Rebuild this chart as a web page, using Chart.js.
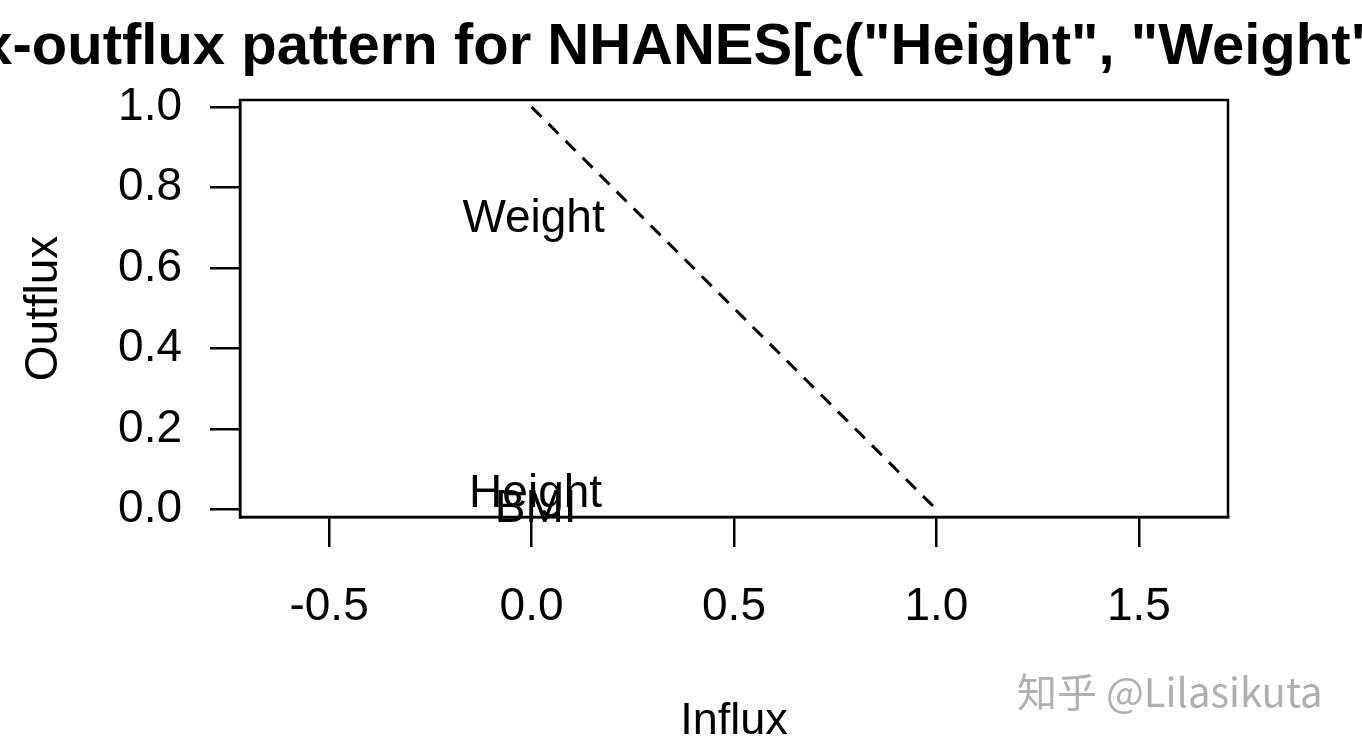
<!DOCTYPE html>
<html>
<head>
<meta charset="utf-8">
<script src="https://cdn.jsdelivr.net/npm/chart.js@4.4.0/dist/chart.umd.min.js"></script>
<style>
  html, body { margin: 0; padding: 0; background: #fff; }
</style>
</head>
<body>
<canvas id="chart" width="1362" height="749"></canvas>
<script>
var variables = ['Height', 'Weight', 'BMI'];
var influx = [0.01, 0.005, 0.01];
var outflux = [0.037, 0.722, 0.0];
var diagonalX = [0, 1];
var diagonalY = [1, 0];
var xTicks = [-0.5, 0, 0.5, 1, 1.5];
var yTicks = [0, 0.2, 0.4, 0.6, 0.8, 1];
var xRange = [-0.72, 1.72];
var yRange = [-0.0186, 1.0174];
var mainTitle = 'Influx-outflux pattern for NHANES[c("Height", "Weight", "BMI")]';
var watermark = '知乎 @Lilasikuta';

var FONT = '"Liberation Sans", Arial, sans-serif';

// white background, box round the plot, title and watermark
var decor = {
  id: 'decor',
  beforeDraw: function(chart) {
    var ctx = chart.ctx;
    ctx.save();
    ctx.fillStyle = '#fff';
    ctx.fillRect(0, 0, chart.width, chart.height);
    ctx.restore();
  },
  afterDraw: function(chart) {
    var ctx = chart.ctx;
    var ca = chart.chartArea;
    ctx.save();
    ctx.strokeStyle = '#000';
    ctx.lineWidth = 2.5;
    ctx.strokeRect(ca.left, ca.top, ca.right - ca.left, ca.bottom - ca.top);
    ctx.fillStyle = '#000';
    ctx.font = 'bold 58px ' + FONT;
    ctx.textAlign = 'center';
    ctx.textBaseline = 'alphabetic';
    ctx.fillText(mainTitle, (ca.left + ca.right) / 2, 64);
    ctx.fillStyle = '#b0b0b0';
    ctx.font = '40px "Noto Sans CJK SC", "Noto Sans", sans-serif';
    ctx.textAlign = 'left';
    ctx.fillText(watermark, 1017, 707);
    ctx.restore();
  }
};

// variable names written at their points, like text() in R
var pointLabels = {
  id: 'pointLabels',
  afterDatasetsDraw: function(chart) {
    var ctx = chart.ctx;
    var meta = chart.getDatasetMeta(1);
    ctx.save();
    ctx.fillStyle = '#000';
    ctx.font = '46px ' + FONT;
    ctx.textAlign = 'center';
    ctx.textBaseline = 'middle';
    meta.data.forEach(function(pt, i) {
      ctx.fillText(variables[i], pt.x, pt.y);
    });
    ctx.restore();
  }
};

var ctx = document.getElementById('chart');
var chart = new Chart(ctx, { // eslint-disable-line
  type: 'scatter',
  data: {
    datasets: [
      {
        data: diagonalX.map((x, i) => ({x: x, y: diagonalY[i]})),
        showLine: true,
        borderColor: '#000',
        borderWidth: 3,
        borderDash: [14, 10],
        pointRadius: 0
      },
      {
        data: influx.map((x, i) => ({x: x, y: outflux[i]})),
        showLine: false,
        pointRadius: 0
      }
    ]
  },
  options: {
    responsive: false,
    animation: false,
    devicePixelRatio: 1,
    layout: { padding: { top: 100, right: 134, bottom: 0, left: 0 } },
    plugins: {
      legend: { display: false },
      tooltip: { enabled: false }
    },
    scales: {
      x: {
        type: 'linear',
        min: xRange[0],
        max: xRange[1],
        afterBuildTicks: function(s) { s.ticks = xTicks.map(v => ({value: v})); },
        afterFit: function(s) { s.height = 232; },
        ticks: {
          color: '#000',
          font: { family: FONT, size: 46 },
          padding: 33,
          maxRotation: 0,
          callback: v => v.toFixed(1)
        },
        grid: { drawOnChartArea: false, drawTicks: true, tickLength: 30, color: '#000', lineWidth: 2.5 },
        border: { display: true, color: '#000', width: 2.5 },
        title: {
          display: true, text: 'Influx', color: '#000',
          font: { family: FONT, size: 45 },
          padding: { top: 0, bottom: 0 }
        }
      },
      y: {
        type: 'linear',
        min: yRange[0],
        max: yRange[1],
        afterBuildTicks: function(s) { s.ticks = yTicks.map(v => ({value: v})); },
        afterFit: function(s) { s.width = 240; },
        ticks: {
          color: '#000',
          font: { family: FONT, size: 46 },
          padding: 28,
          callback: v => v.toFixed(1)
        },
        grid: { drawOnChartArea: false, drawTicks: true, tickLength: 30, color: '#000', lineWidth: 2.5 },
        border: { display: true, color: '#000', width: 2.5 },
        title: {
          display: true, text: 'Outflux', color: '#000',
          font: { family: FONT, size: 46 },
          padding: { top: 17, bottom: 0 }
        }
      }
    }
  },
  plugins: [decor, pointLabels]
});
</script>
</body>
</html>
